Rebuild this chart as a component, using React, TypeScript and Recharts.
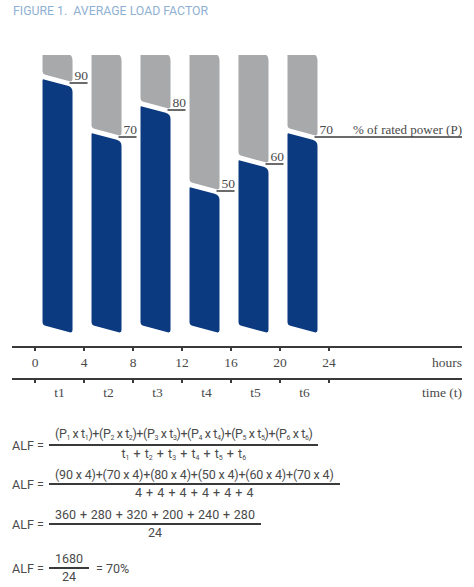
import React from "react";
import { ComposedChart, Bar, XAxis, YAxis, LabelList } from "recharts";

const periods = ["t1", "t2", "t3", "t4", "t5", "t6"];
const hours = [4, 4, 4, 4, 4, 4];
const load = [90, 70, 80, 50, 60, 70];
const RATED = 100;

const starts = hours.map((_, i) => hours.slice(0, i).reduce((a, b) => a + b, 0));
const total = hours.reduce((a, b) => a + b, 0);
const hourTicks = [...starts, total];
const data = periods.map((p, i) => ({
  period: p,
  mid: starts[i] + hours[i] / 2,
  load: load[i],
  rest: RATED - load[i],
}));
const products = load.map((v, i) => v * hours[i]);
const productSum = products.reduce((a, b) => a + b, 0);

const BLUE = "#0b3a80";
const GREY = "#a8a9ab";
const INK = "#4a4a4a";
const LINE = "#3a3a3a";
const SERIF = "'Liberation Serif', serif";
const SANS = "Roboto, 'Open Sans', sans-serif";

const SKEW = 8;
const SHIFT = -1.5;

type Pt = [number, number];

// polygon with each corner cut by a small quadratic curve
function roundedPoly(pts: Pt[], radii: number[]) {
  const n = pts.length;
  let d = "";
  for (let i = 0; i < n; i++) {
    const p = pts[i];
    const prev = pts[(i + n - 1) % n];
    const next = pts[(i + 1) % n];
    const r = radii[i];
    const l1 = Math.hypot(prev[0] - p[0], prev[1] - p[1]) || 1;
    const l2 = Math.hypot(next[0] - p[0], next[1] - p[1]) || 1;
    const a = [p[0] + ((prev[0] - p[0]) / l1) * r, p[1] + ((prev[1] - p[1]) / l1) * r];
    const b = [p[0] + ((next[0] - p[0]) / l2) * r, p[1] + ((next[1] - p[1]) / l2) * r];
    d += `${i === 0 ? "M" : "L"}${a[0]},${a[1]} Q${p[0]},${p[1]} ${b[0]},${b[1]} `;
  }
  return d + "Z";
}

function slab(x: number, w: number, topR: number, botR: number, fill: string) {
  const pts: Pt[] = [
    [x, topR - SKEW],
    [x + w, topR],
    [x + w, botR],
    [x, botR - SKEW],
  ];
  return <path d={roundedPoly(pts, [1.5, 5, 3, 3])} fill={fill} />;
}

const LoadShape = (props: any) => {
  const { x, y, width, height } = props;
  return slab(x + SHIFT, width, y + 5, y + height + SKEW, BLUE);
};

const RestShape = (props: any) => {
  const { x, y, width, height } = props;
  return slab(x + SHIFT, width, y, y + height, GREY);
};

const ValueLabel = (props: any) => {
  const { x, y, width, value, index } = props;
  const right = x + width + SHIFT;
  const last = index === data.length - 1;
  return (
    <g>
      <line
        x1={right - 3}
        x2={last ? 462 : right + 15}
        y1={y + 1}
        y2={y + 1}
        stroke={LINE}
        strokeWidth={1.5}
      />
      <text x={right + 2} y={y - 2} fontFamily={SERIF} fontSize={13.5} fill={INK}>
        {value}
      </text>
      {last && (
        <text x={462} y={y - 2} textAnchor="end" fontFamily={SERIF} fontSize={13} fill={INK}>
          % of rated power (P)
        </text>
      )}
    </g>
  );
};

const HourTick = (props: any) => {
  const { x, y, payload } = props;
  return (
    <g>
      <line x1={x} x2={x} y1={y} y2={y + 4} stroke={LINE} strokeWidth={2} />
      <text x={x} y={y + 19.5} textAnchor="middle" fontFamily={SERIF} fontSize={13.5} fill={INK}>
        {payload.value}
      </text>
    </g>
  );
};

const TimeTick = (props: any) => {
  const { x, y, payload } = props;
  const idx = data.findIndex((d) => d.mid === payload.value);
  if (idx < 0) {
    return <line x1={x} x2={x} y1={y} y2={y + 4} stroke={LINE} strokeWidth={2} />;
  }
  return (
    <text x={x} y={y + 17.5} textAnchor="middle" fontFamily={SERIF} fontSize={13.5} fill={INK}>
      {data[idx].period}
    </text>
  );
};

const axisTitle = (text: string, dy: number) => (props: any) => {
  const { x, y, width } = props.viewBox;
  return (
    <text x={x + width} y={y + dy} textAnchor="end" fontFamily={SERIF} fontSize={13.5} fill={INK}>
      {text}
    </text>
  );
};

const Sub = ({ children }: { children: React.ReactNode }) => (
  <span style={{ fontSize: 7, position: "relative", top: 2 }}>{children}</span>
);

function Fraction({
  top,
  num,
  den,
  after,
  numStyle,
}: {
  top: number;
  num: React.ReactNode;
  den: React.ReactNode;
  after?: string;
  numStyle?: React.CSSProperties;
}) {
  return (
    <div
      style={{
        position: "absolute",
        left: 12,
        top,
        display: "flex",
        alignItems: "center",
        fontFamily: SANS,
        fontSize: 12.5,
        color: INK,
        whiteSpace: "pre",
      }}
    >
      <span style={{ width: 37 }}>ALF =</span>
      <span style={{ display: "inline-flex", flexDirection: "column", alignItems: "center" }}>
        <span
          style={{
            padding: "0 6px",
            lineHeight: "16px",
            borderBottom: `2px solid ${LINE}`,
            ...numStyle,
          }}
        >
          {num}
        </span>
        <span style={{ lineHeight: "16px", wordSpacing: 1 }}>{den}</span>
      </span>
      {after && <span style={{ marginLeft: 7 }}>{after}</span>}
    </div>
  );
}

export default function App() {
  return (
    <div
      style={{
        position: "absolute",
        left: 0,
        top: 0,
        width: 474,
        height: 587,
        background: "#fff",
        overflow: "hidden",
      }}
    >
      <div
        style={{
          position: "absolute",
          left: 13,
          top: 4,
          fontFamily: SANS,
          fontSize: 12.3,
          lineHeight: "14px",
          color: "#8fb1d3",
          whiteSpace: "pre",
        }}
      >
        {"FIGURE 1.  AVERAGE LOAD FACTOR"}
      </div>

      <div style={{ position: "absolute", left: 0, top: 0 }}>
        <ComposedChart
          width={474}
          height={409}
          data={data}
          margin={{ top: 55, right: 12, bottom: 0, left: 12 }}
        >
          <YAxis hide type="number" domain={[-8.15, RATED]} allowDataOverflow />
          <XAxis
            xAxisId="hours"
            dataKey="mid"
            type="number"
            domain={[-1.88, 34.86]}
            allowDataOverflow
            ticks={hourTicks}
            interval={0}
            height={32}
            tickSize={0}
            tickMargin={0}
            tickLine={false}
            axisLine={{ stroke: LINE, strokeWidth: 2 }}
            tick={HourTick}
            label={{ content: axisTitle("hours", 19.5) }}
          />
          <XAxis
            xAxisId="time"
            dataKey="mid"
            type="number"
            domain={[-1.88, 34.86]}
            allowDataOverflow
            ticks={[...hourTicks, ...data.map((d) => d.mid)].sort((a, b) => a - b)}
            interval={0}
            height={30}
            tickSize={0}
            tickMargin={0}
            tickLine={false}
            axisLine={{ stroke: LINE, strokeWidth: 2 }}
            tick={TimeTick}
            label={{ content: axisTitle("time (t)", 17.5) }}
          />
          <Bar
            xAxisId="hours"
            dataKey="load"
            stackId="p"
            barSize={30}
            shape={LoadShape}
            isAnimationActive={false}
          >
            <LabelList dataKey="load" content={ValueLabel} />
          </Bar>
          <Bar
            xAxisId="hours"
            dataKey="rest"
            stackId="p"
            barSize={30}
            shape={RestShape}
            isAnimationActive={false}
          />
        </ComposedChart>
      </div>

      <Fraction
        top={426}
        numStyle={{ letterSpacing: -0.4 }}
        num={periods.map((_, i) => (
          <React.Fragment key={i}>
            {i > 0 && "+"}(P<Sub>{i + 1}</Sub> x t<Sub>{i + 1}</Sub>)
          </React.Fragment>
        ))}
        den={periods.map((_, i) => (
          <React.Fragment key={i}>
            {i > 0 && " + "}t<Sub>{i + 1}</Sub>
          </React.Fragment>
        ))}
      />
      <Fraction
        top={467}
        numStyle={{ letterSpacing: -0.18 }}
        num={load.map((v, i) => `(${v} x ${hours[i]})`).join("+")}
        den={hours.join(" + ")}
      />
      <Fraction
        top={507}
        numStyle={{ wordSpacing: 0.7 }}
        num={products.join(" + ")}
        den={total}
      />
      <Fraction
        top={551}
        num={productSum}
        den={total}
        after={`= ${Math.round(productSum / total)}%`}
      />
    </div>
  );
}
